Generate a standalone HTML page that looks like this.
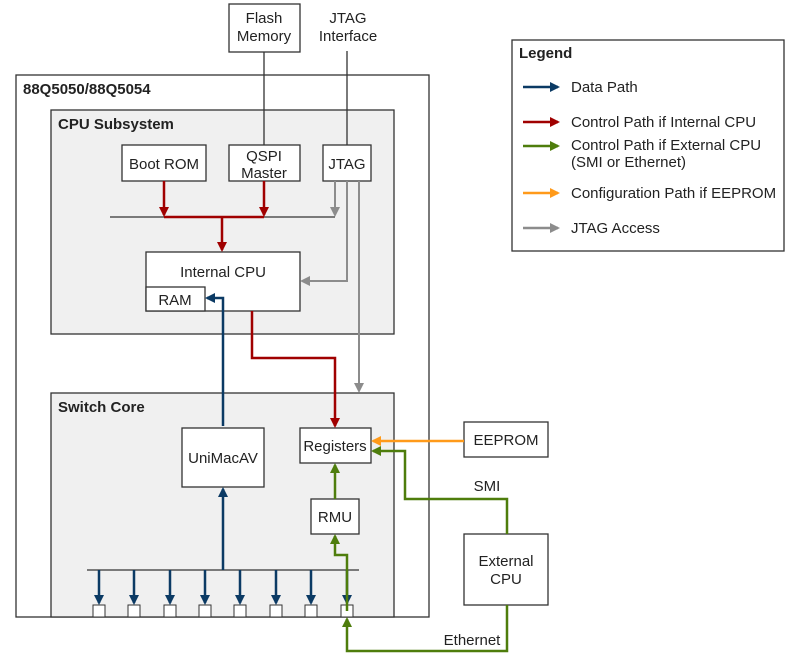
<!DOCTYPE html>
<html><head><meta charset="utf-8"><style>
html,body{margin:0;padding:0;background:#fff;}
svg{display:block;}
text{font-family:"Liberation Sans",Arial,sans-serif;font-size:15px;fill:#222;}
.b{font-weight:bold;}
</style></head><body>
<svg width="791" height="657" viewBox="0 0 791 657" xmlns="http://www.w3.org/2000/svg">
<defs>
<marker id="aB" markerWidth="10" markerHeight="10" refX="8" refY="5" orient="auto" markerUnits="userSpaceOnUse"><path d="M0,0 L10,5 L0,10 z" fill="#0b3a64"/></marker>
<marker id="aR" markerWidth="10" markerHeight="10" refX="8" refY="5" orient="auto" markerUnits="userSpaceOnUse"><path d="M0,0 L10,5 L0,10 z" fill="#a00000"/></marker>
<marker id="aG" markerWidth="10" markerHeight="10" refX="8" refY="5" orient="auto" markerUnits="userSpaceOnUse"><path d="M0,0 L10,5 L0,10 z" fill="#4e7d0c"/></marker>
<marker id="aO" markerWidth="10" markerHeight="10" refX="8" refY="5" orient="auto" markerUnits="userSpaceOnUse"><path d="M0,0 L10,5 L0,10 z" fill="#ff9a1a"/></marker>
<marker id="aY" markerWidth="10" markerHeight="10" refX="8" refY="5" orient="auto" markerUnits="userSpaceOnUse"><path d="M0,0 L10,5 L0,10 z" fill="#8c8c8c"/></marker>
</defs>
<g stroke="#333" stroke-width="1.3" fill="none">
<rect x="16" y="75" width="413" height="542" fill="#fff"/>
<rect x="51" y="110" width="343" height="224" fill="#f0f0f0"/>
<rect x="51" y="393" width="343" height="224" fill="#f0f0f0"/>
<rect x="229" y="4" width="71" height="48" fill="#fff"/>
<line x1="264" y1="52" x2="264" y2="145"/>
<line x1="347" y1="51" x2="347" y2="145"/>
<rect x="122" y="145" width="84" height="36" fill="#fff"/>
<rect x="229" y="145" width="71" height="36" fill="#fff"/>
<rect x="323" y="145" width="48" height="36" fill="#fff"/>
<rect x="146" y="252" width="154" height="59" fill="#fff"/>
<rect x="146" y="287" width="59" height="24" fill="#fff"/>
<line x1="110" y1="217" x2="335" y2="217"/>
<rect x="182" y="428" width="82" height="59" fill="#fff"/>
<rect x="300" y="428" width="71" height="35" fill="#fff"/>
<rect x="311" y="499" width="48" height="35" fill="#fff"/>
<line x1="87" y1="570" x2="359" y2="570"/>
<rect x="464" y="422" width="84" height="35" fill="#fff"/>
<rect x="464" y="534" width="84" height="71" fill="#fff"/>
<rect x="512" y="40" width="272" height="211" fill="#fff"/>
</g>
<g fill="#fff" stroke="#333" stroke-width="1">
<rect x="93" y="605" width="12" height="12"/><rect x="128" y="605" width="12" height="12"/>
<rect x="164" y="605" width="12" height="12"/><rect x="199" y="605" width="12" height="12"/>
<rect x="234" y="605" width="12" height="12"/><rect x="270" y="605" width="12" height="12"/>
<rect x="305" y="605" width="12" height="12"/><rect x="341" y="605" width="12" height="12"/>
</g>
<g stroke="#8c8c8c" stroke-width="2" fill="none">
<path d="M335,181 V215" marker-end="url(#aY)"/>
<path d="M347,181 V281 H302" marker-end="url(#aY)"/>
<path d="M359,181 V391" marker-end="url(#aY)"/>
</g>
<g stroke="#a00000" stroke-width="2.5" fill="none">
<path d="M164,181 V215" marker-end="url(#aR)"/>
<path d="M264,181 V215" marker-end="url(#aR)"/>
<path d="M164,217 H264"/>
<path d="M222,217 V250" marker-end="url(#aR)"/>
<path d="M252,311 V358 H335 V426" marker-end="url(#aR)"/>
</g>
<g stroke="#0b3a64" stroke-width="2.5" fill="none">
<path d="M223,426 V298 H207" marker-end="url(#aB)"/>
<path d="M223,570 V489" marker-end="url(#aB)"/>
<path d="M99,570 V603" marker-end="url(#aB)"/><path d="M134,570 V603" marker-end="url(#aB)"/>
<path d="M170,570 V603" marker-end="url(#aB)"/><path d="M205,570 V603" marker-end="url(#aB)"/>
<path d="M240,570 V603" marker-end="url(#aB)"/><path d="M276,570 V603" marker-end="url(#aB)"/>
<path d="M311,570 V603" marker-end="url(#aB)"/><path d="M347,570 V603" marker-end="url(#aB)"/>
</g>
<g stroke="#4e7d0c" stroke-width="2.5" fill="none">
<path d="M335,499 V465" marker-end="url(#aG)"/>
<path d="M347,611 V555 H335 V536" marker-end="url(#aG)"/>
<path d="M507,534 V499 H405 V451 H373" marker-end="url(#aG)"/>
<path d="M507,605 V651 H347 V619" marker-end="url(#aG)"/>
</g>
<path d="M464,441 H373" stroke="#ff9a1a" stroke-width="2.5" fill="none" marker-end="url(#aO)"/>
<path d="M523,87 H558" stroke="#0b3a64" stroke-width="2.5" marker-end="url(#aB)"/>
<path d="M523,122 H558" stroke="#a00000" stroke-width="2.5" marker-end="url(#aR)"/>
<path d="M523,146 H558" stroke="#4e7d0c" stroke-width="2.5" marker-end="url(#aG)"/>
<path d="M523,193 H558" stroke="#ff9a1a" stroke-width="2.5" marker-end="url(#aO)"/>
<path d="M523,228 H558" stroke="#8c8c8c" stroke-width="2.5" marker-end="url(#aY)"/>
<text x="264" y="23" text-anchor="middle">Flash</text>
<text x="264" y="41" text-anchor="middle">Memory</text>
<text x="348" y="23" text-anchor="middle">JTAG</text>
<text x="348" y="41" text-anchor="middle">Interface</text>
<text x="23" y="94" class="b">88Q5050/88Q5054</text>
<text x="58" y="129" class="b">CPU Subsystem</text>
<text x="164" y="169" text-anchor="middle">Boot ROM</text>
<text x="264" y="161" text-anchor="middle">QSPI</text>
<text x="264" y="178" text-anchor="middle">Master</text>
<text x="347" y="169" text-anchor="middle">JTAG</text>
<text x="223" y="277" text-anchor="middle">Internal CPU</text>
<text x="175" y="305" text-anchor="middle">RAM</text>
<text x="58" y="412" class="b">Switch Core</text>
<text x="223" y="463" text-anchor="middle">UniMacAV</text>
<text x="335" y="451" text-anchor="middle">Registers</text>
<text x="335" y="522" text-anchor="middle">RMU</text>
<text x="506" y="445" text-anchor="middle">EEPROM</text>
<text x="506" y="566" text-anchor="middle">External</text>
<text x="506" y="584" text-anchor="middle">CPU</text>
<text x="487" y="491" text-anchor="middle">SMI</text>
<text x="472" y="645" text-anchor="middle">Ethernet</text>
<text x="519" y="58" class="b">Legend</text>
<text x="571" y="92">Data Path</text>
<text x="571" y="127">Control Path if Internal CPU</text>
<text x="571" y="150">Control Path if External CPU</text>
<text x="571" y="167">(SMI or Ethernet)</text>
<text x="571" y="198">Configuration Path if EEPROM</text>
<text x="571" y="233">JTAG Access</text>
</svg>
</body></html>
